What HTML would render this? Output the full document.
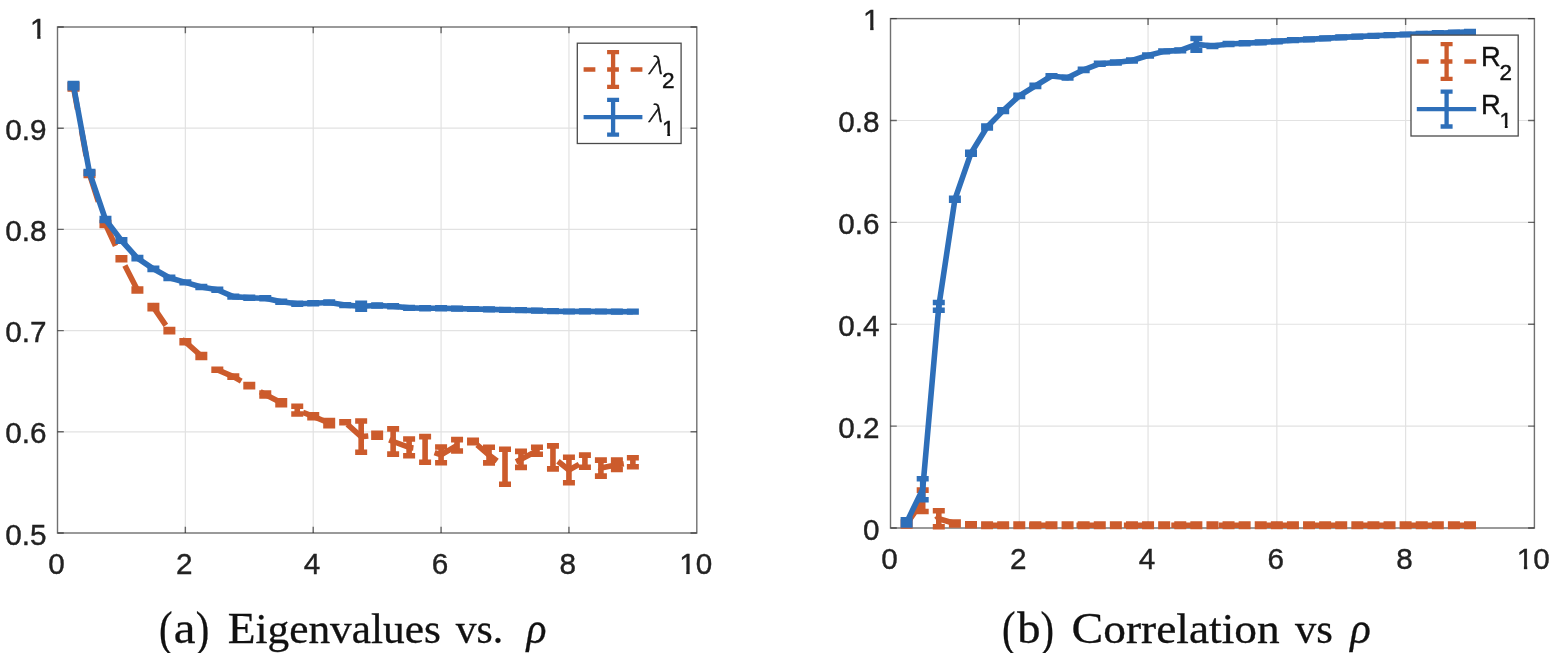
<!DOCTYPE html>
<html lang="en"><head><meta charset="utf-8"><title>Eigenvalues and correlation vs rho</title>
<style>html,body{margin:0;padding:0;background:#fff}svg{display:block}.tk text{stroke:#222;stroke-width:.4px}</style></head>
<body>
<svg width="1553" height="653" viewBox="0 0 1553 653" font-family="Liberation Sans, Arial, Helvetica, sans-serif" fill="#222222">
<rect width="1553" height="653" fill="#fff"/>
<path d="M185.36 27V533M313.22 27V533M441.08 27V533M568.94 27V533M57.5 128.2H696.8M57.5 229.4H696.8M57.5 330.6H696.8M57.5 431.8H696.8" stroke="#e2e2e2" stroke-width="1.2" fill="none"/>
<g class="tk"><path d="M185.36 533v-6.3M185.36 27v6.3M313.22 533v-6.3M313.22 27v6.3M441.08 533v-6.3M441.08 27v6.3M568.94 533v-6.3M568.94 27v6.3M57.5 128.2h6.3M696.8 128.2h-6.3M57.5 229.4h6.3M696.8 229.4h-6.3M57.5 330.6h6.3M696.8 330.6h-6.3M57.5 431.8h6.3M696.8 431.8h-6.3M57.5 27h6.3M57.5 533h6.3M696.8 27h-6.3M696.8 533h-6.3" stroke="#262626" stroke-opacity="0.66" stroke-width="1.4" fill="none"/>
<rect x="57.5" y="27" width="639.3" height="506" fill="none" stroke="#262626" stroke-opacity="0.66" stroke-width="1.4"/>
<clipPath id="c1"><rect x="28.09" y="5.83" width="18.63" height="29.4"/><rect x="37.21" y="29.59" width="3.32" height="9.26"/></clipPath>
<text x="46.6" y="38.5" text-anchor="end" font-size="29.7" clip-path="url(#c1)">1</text>
<text x="46.6" y="139.7" text-anchor="end" font-size="29.7">0.9</text>
<text x="46.6" y="240.9" text-anchor="end" font-size="29.7">0.8</text>
<text x="46.6" y="342.1" text-anchor="end" font-size="29.7">0.7</text>
<text x="46.6" y="443.3" text-anchor="end" font-size="29.7">0.6</text>
<text x="46.6" y="544.5" text-anchor="end" font-size="29.7">0.5</text>
<text x="56.4" y="574" text-anchor="middle" font-size="29.7">0</text>
<text x="184.26" y="574" text-anchor="middle" font-size="29.7">2</text>
<text x="312.12" y="574" text-anchor="middle" font-size="29.7">4</text>
<text x="439.98" y="574" text-anchor="middle" font-size="29.7">6</text>
<text x="567.84" y="574" text-anchor="middle" font-size="29.7">8</text>
<clipPath id="c2"><rect x="677.19" y="541.33" width="18.63" height="29.4"/><rect x="686.31" y="565.09" width="3.32" height="9.26"/><rect x="695.82" y="541.33" width="20.79" height="41.58"/></clipPath>
<text x="695.7" y="574" text-anchor="middle" font-size="29.7" clip-path="url(#c2)">10</text></g>
<path d="M73.48 86.9 L89.47 174 L105.45 224 L121.43 258.8 L137.41 290 L153.39 307.1 L169.38 330.6 L185.36 341.8 L201.34 356 L217.32 369.7 L233.31 376.6 L249.29 385.6 L265.27 394.5 L281.25 402.8 L297.24 410.1 L313.22 416.3 L329.2 423.1 L345.18 422.3 L361.17 436.6 L377.15 435.3 L393.13 441.5 L409.11 447.4 L425.1 449.4 L441.08 454.9 L457.06 445.3 L473.04 441.4 L489.03 455.1 L505.01 466.7 L520.99 459.4 L536.97 450.7 L552.96 457.4 L568.94 470 L584.92 461.2 L600.9 468.1 L616.89 464.8 L632.87 462.2" fill="none" stroke="#CC5B2C" stroke-width="5.6" stroke-linejoin="round" stroke-dasharray="25.6 21.8" stroke-dashoffset="2.7"/>
<path d="M73.48 84.9V88.9M67.48 84.9H79.48M67.48 88.9H79.48M89.47 172.5V175.5M83.47 172.5H95.47M83.47 175.5H95.47M105.45 222.5V225.5M99.45 222.5H111.45M99.45 225.5H111.45M121.43 257.8V259.8M115.43 257.8H127.43M115.43 259.8H127.43M137.41 289V291M131.41 289H143.41M131.41 291H143.41M153.39 305.6V308.6M147.39 305.6H159.39M147.39 308.6H159.39M169.38 329.6V331.6M163.38 329.6H175.38M163.38 331.6H175.38M185.36 340.8V342.8M179.36 340.8H191.36M179.36 342.8H191.36M201.34 354.5V357.5M195.34 354.5H207.34M195.34 357.5H207.34M217.32 369.2V370.2M211.32 369.2H223.32M211.32 370.2H223.32M233.31 376.1V377.1M227.31 376.1H239.31M227.31 377.1H239.31M249.29 384.6V386.6M243.29 384.6H255.29M243.29 386.6H255.29M265.27 393V396M259.27 393H271.27M259.27 396H271.27M281.25 400.8V404.8M275.25 400.8H287.25M275.25 404.8H287.25M297.24 406.2V414M291.24 406.2H303.24M291.24 414H303.24M313.22 414.8V417.8M307.22 414.8H319.22M307.22 417.8H319.22M329.2 420.5V425.7M323.2 420.5H335.2M323.2 425.7H335.2M345.18 421.8V422.8M339.18 421.8H351.18M339.18 422.8H351.18M361.17 421V452.2M355.17 421H367.17M355.17 452.2H367.17M377.15 433.3V437.3M371.15 433.3H383.15M371.15 437.3H383.15M393.13 428.9V454.1M387.13 428.9H399.13M387.13 454.1H399.13M409.11 439V455.8M403.11 439H415.11M403.11 455.8H415.11M425.1 436.6V462.2M419.1 436.6H431.1M419.1 462.2H431.1M441.08 447V462.8M435.08 447H447.08M435.08 462.8H447.08M457.06 439.6V451M451.06 439.6H463.06M451.06 451H463.06M473.04 440.2V442.6M467.04 440.2H479.04M467.04 442.6H479.04M489.03 447.3V462.9M483.03 447.3H495.03M483.03 462.9H495.03M505.01 449.2V484.2M499.01 449.2H511.01M499.01 484.2H511.01M520.99 451.4V467.4M514.99 451.4H526.99M514.99 467.4H526.99M536.97 447.2V454.2M530.97 447.2H542.97M530.97 454.2H542.97M552.96 445.9V468.9M546.96 445.9H558.96M546.96 468.9H558.96M568.94 457.2V482.8M562.94 457.2H574.94M562.94 482.8H574.94M584.92 455.1V467.3M578.92 455.1H590.92M578.92 467.3H590.92M600.9 460.1V476.1M594.9 460.1H606.9M594.9 476.1H606.9M616.89 460.1V469.5M610.89 460.1H622.89M610.89 469.5H622.89M632.87 457.7V466.7M626.87 457.7H638.87M626.87 466.7H638.87" fill="none" stroke="#CC5B2C" stroke-width="5.6"/>
<path d="M73.48 85.6 L89.47 172.5 L105.45 219.5 L121.43 240.5 L137.41 258.2 L153.39 268.8 L169.38 277.8 L185.36 282.4 L201.34 287 L217.32 289.7 L233.31 296.6 L249.29 297.8 L265.27 298.3 L281.25 301.7 L297.24 303.7 L313.22 303.2 L329.2 302.5 L345.18 305.1 L361.17 306.3 L377.15 305.5 L393.13 306.3 L409.11 307.9 L425.1 308.2 L441.08 308.3 L457.06 308.6 L473.04 309 L489.03 309.4 L505.01 309.8 L520.99 310.2 L536.97 310.6 L552.96 311.2 L568.94 311.5 L584.92 311.3 L600.9 311.5 L616.89 311.6 L632.87 311.7" fill="none" stroke="#2E6FB9" stroke-width="5.6" stroke-linejoin="round"/>
<path d="M73.48 83.6V87.6M67.48 83.6H79.48M67.48 87.6H79.48M89.47 171.6V173.4M83.47 171.6H95.47M83.47 173.4H95.47M105.45 218.6V220.4M99.45 218.6H111.45M99.45 220.4H111.45M121.43 239.9V241.1M115.43 239.9H127.43M115.43 241.1H127.43M137.41 257.6V258.8M131.41 257.6H143.41M131.41 258.8H143.41M153.39 268.2V269.4M147.39 268.2H159.39M147.39 269.4H159.39M169.38 277.2V278.4M163.38 277.2H175.38M163.38 278.4H175.38M185.36 282V282.8M179.36 282H191.36M179.36 282.8H191.36M201.34 286.6V287.4M195.34 286.6H207.34M195.34 287.4H207.34M217.32 289.3V290.1M211.32 289.3H223.32M211.32 290.1H223.32M233.31 296.2V297M227.31 296.2H239.31M227.31 297H239.31M249.29 297.4V298.2M243.29 297.4H255.29M243.29 298.2H255.29M265.27 297.9V298.7M259.27 297.9H271.27M259.27 298.7H271.27M281.25 301.3V302.1M275.25 301.3H287.25M275.25 302.1H287.25M297.24 303.3V304.1M291.24 303.3H303.24M291.24 304.1H303.24M313.22 302.8V303.6M307.22 302.8H319.22M307.22 303.6H319.22M329.2 302.1V302.9M323.2 302.1H335.2M323.2 302.9H335.2M345.18 304.7V305.5M339.18 304.7H351.18M339.18 305.5H351.18M361.17 303.4V309.2M355.17 303.4H367.17M355.17 309.2H367.17M377.15 305.1V305.9M371.15 305.1H383.15M371.15 305.9H383.15M393.13 305.9V306.7M387.13 305.9H399.13M387.13 306.7H399.13M409.11 307.5V308.3M403.11 307.5H415.11M403.11 308.3H415.11M425.1 307.8V308.6M419.1 307.8H431.1M419.1 308.6H431.1M441.08 307.9V308.7M435.08 307.9H447.08M435.08 308.7H447.08M457.06 308.3V308.9M451.06 308.3H463.06M451.06 308.9H463.06M473.04 308.7V309.3M467.04 308.7H479.04M467.04 309.3H479.04M489.03 309.1V309.7M483.03 309.1H495.03M483.03 309.7H495.03M505.01 309.5V310.1M499.01 309.5H511.01M499.01 310.1H511.01M520.99 309.9V310.5M514.99 309.9H526.99M514.99 310.5H526.99M536.97 310.3V310.9M530.97 310.3H542.97M530.97 310.9H542.97M552.96 310.9V311.5M546.96 310.9H558.96M546.96 311.5H558.96M568.94 311.2V311.8M562.94 311.2H574.94M562.94 311.8H574.94M584.92 311V311.6M578.92 311H590.92M578.92 311.6H590.92M600.9 311.2V311.8M594.9 311.2H606.9M594.9 311.8H606.9M616.89 311.3V311.9M610.89 311.3H622.89M610.89 311.9H622.89M632.87 311.4V312M626.87 311.4H638.87M626.87 312H638.87" fill="none" stroke="#2E6FB9" stroke-width="5.6"/>
<rect x="577.3" y="43.2" width="103.8" height="100.3" fill="#fff" stroke="#4a4a4a" stroke-width="1.3"/>
<path d="M583.6 69.5H642.4" stroke="#CC5B2C" stroke-width="4.3" stroke-dasharray="11.76 11.76" fill="none"/>
<path d="M613.1 52.1V86.9M607.1 52.1H619.1M607.1 86.9H619.1" stroke="#CC5B2C" stroke-width="4.3" fill="none"/>
<path d="M583.6 117.2H642.4" stroke="#2E6FB9" stroke-width="4.3" fill="none"/>
<path d="M613.1 99.8V134.6M607.1 99.8H619.1M607.1 134.6H619.1" stroke="#2E6FB9" stroke-width="4.3" fill="none"/>
<text transform="translate(647 73.9) scale(1.08 1) skewX(-14)" font-size="24.9" font-family="DejaVu Sans, sans-serif" font-weight="200" fill="#111" stroke="#111" stroke-width="0.6">λ</text>
<text x="662" y="87.8" font-size="22.6" fill="#111" stroke="#111" stroke-width="0.45">2</text>
<text transform="translate(647 121.8) scale(1.08 1) skewX(-14)" font-size="24.9" font-family="DejaVu Sans, sans-serif" font-weight="200" fill="#111" stroke="#111" stroke-width="0.6">λ</text>
<clipPath id="c3"><rect x="660" y="110.84" width="14.66" height="22.1"/><rect x="667.31" y="128.92" width="2.75" height="7.16"/></clipPath>
<text x="662" y="135.7" font-size="22.6" fill="#111" stroke="#111" stroke-width="0.45" clip-path="url(#c3)">1</text>
<path d="M1019.28 18.6V528M1148.06 18.6V528M1276.84 18.6V528M1405.62 18.6V528M890.5 120.48H1534.4M890.5 222.36H1534.4M890.5 324.24H1534.4M890.5 426.12H1534.4" stroke="#e2e2e2" stroke-width="1.2" fill="none"/>
<g class="tk"><path d="M1019.28 528v-6.3M1019.28 18.6v6.3M1148.06 528v-6.3M1148.06 18.6v6.3M1276.84 528v-6.3M1276.84 18.6v6.3M1405.62 528v-6.3M1405.62 18.6v6.3M890.5 120.48h6.3M1534.4 120.48h-6.3M890.5 222.36h6.3M1534.4 222.36h-6.3M890.5 324.24h6.3M1534.4 324.24h-6.3M890.5 426.12h6.3M1534.4 426.12h-6.3M890.5 18.6h6.3M890.5 528h6.3M1534.4 18.6h-6.3M1534.4 528h-6.3" stroke="#262626" stroke-opacity="0.66" stroke-width="1.4" fill="none"/>
<rect x="890.5" y="18.6" width="643.9" height="509.4" fill="none" stroke="#262626" stroke-opacity="0.66" stroke-width="1.4"/>
<clipPath id="c4"><rect x="861.09" y="-2.57" width="18.63" height="29.4"/><rect x="870.21" y="21.19" width="3.32" height="9.26"/></clipPath>
<text x="879.6" y="30.1" text-anchor="end" font-size="29.7" clip-path="url(#c4)">1</text>
<text x="879.6" y="131.98" text-anchor="end" font-size="29.7">0.8</text>
<text x="879.6" y="233.86" text-anchor="end" font-size="29.7">0.6</text>
<text x="879.6" y="335.74" text-anchor="end" font-size="29.7">0.4</text>
<text x="879.6" y="437.62" text-anchor="end" font-size="29.7">0.2</text>
<text x="879.6" y="539.5" text-anchor="end" font-size="29.7">0</text>
<text x="889.4" y="569.3" text-anchor="middle" font-size="29.7">0</text>
<text x="1018.18" y="569.3" text-anchor="middle" font-size="29.7">2</text>
<text x="1146.96" y="569.3" text-anchor="middle" font-size="29.7">4</text>
<text x="1275.74" y="569.3" text-anchor="middle" font-size="29.7">6</text>
<text x="1404.52" y="569.3" text-anchor="middle" font-size="29.7">8</text>
<clipPath id="c5"><rect x="1514.79" y="536.63" width="18.63" height="29.4"/><rect x="1523.91" y="560.39" width="3.32" height="9.26"/><rect x="1533.42" y="536.63" width="20.79" height="41.58"/></clipPath>
<text x="1533.3" y="569.3" text-anchor="middle" font-size="29.7" clip-path="url(#c5)">10</text></g>
<path d="M906.6 524 L922.7 500.8 L938.79 518.7 L954.89 523.5 L970.99 524.7 L987.09 525.3 L1003.18 525.3 L1019.28 525.3 L1035.38 525.3 L1051.47 525.3 L1067.57 525.3 L1083.67 525.3 L1099.77 525.3 L1115.87 525.3 L1131.96 525.3 L1148.06 525.3 L1164.16 525.3 L1180.26 525.3 L1196.35 525.3 L1212.45 525.3 L1228.55 525.3 L1244.64 525.3 L1260.74 525.3 L1276.84 525.3 L1292.94 525.3 L1309.04 525.3 L1325.13 525.3 L1341.23 525.3 L1357.33 525.3 L1373.43 525.3 L1389.52 525.3 L1405.62 525.3 L1421.72 525.3 L1437.82 525.3 L1453.91 525.3 L1470.01 525.3" fill="none" stroke="#CC5B2C" stroke-width="5.6" stroke-linejoin="round" stroke-dasharray="25.6 21.8" stroke-dashoffset="46.23"/>
<path d="M906.6 522V526M900.6 522H912.6M900.6 526H912.6M922.7 490.1V511.5M916.7 490.1H928.7M916.7 511.5H928.7M938.79 510.7V526.7M932.79 510.7H944.79M932.79 526.7H944.79M954.89 522V525M948.89 522H960.89M948.89 525H960.89M970.99 523.7V525.7M964.99 523.7H976.99M964.99 525.7H976.99M987.09 524.1V526.5M981.09 524.1H993.09M981.09 526.5H993.09M1003.18 524.1V526.5M997.18 524.1H1009.18M997.18 526.5H1009.18M1019.28 524.1V526.5M1013.28 524.1H1025.28M1013.28 526.5H1025.28M1035.38 524.1V526.5M1029.38 524.1H1041.38M1029.38 526.5H1041.38M1051.47 524.1V526.5M1045.47 524.1H1057.47M1045.47 526.5H1057.47M1067.57 524.1V526.5M1061.57 524.1H1073.57M1061.57 526.5H1073.57M1083.67 524.1V526.5M1077.67 524.1H1089.67M1077.67 526.5H1089.67M1099.77 524.1V526.5M1093.77 524.1H1105.77M1093.77 526.5H1105.77M1115.87 524.1V526.5M1109.87 524.1H1121.87M1109.87 526.5H1121.87M1131.96 524.1V526.5M1125.96 524.1H1137.96M1125.96 526.5H1137.96M1148.06 524.1V526.5M1142.06 524.1H1154.06M1142.06 526.5H1154.06M1164.16 524.1V526.5M1158.16 524.1H1170.16M1158.16 526.5H1170.16M1180.26 524.1V526.5M1174.26 524.1H1186.26M1174.26 526.5H1186.26M1196.35 524.1V526.5M1190.35 524.1H1202.35M1190.35 526.5H1202.35M1212.45 524.1V526.5M1206.45 524.1H1218.45M1206.45 526.5H1218.45M1228.55 524.1V526.5M1222.55 524.1H1234.55M1222.55 526.5H1234.55M1244.64 524.1V526.5M1238.64 524.1H1250.64M1238.64 526.5H1250.64M1260.74 524.1V526.5M1254.74 524.1H1266.74M1254.74 526.5H1266.74M1276.84 524.1V526.5M1270.84 524.1H1282.84M1270.84 526.5H1282.84M1292.94 524.1V526.5M1286.94 524.1H1298.94M1286.94 526.5H1298.94M1309.04 524.1V526.5M1303.04 524.1H1315.04M1303.04 526.5H1315.04M1325.13 524.1V526.5M1319.13 524.1H1331.13M1319.13 526.5H1331.13M1341.23 524.1V526.5M1335.23 524.1H1347.23M1335.23 526.5H1347.23M1357.33 524.1V526.5M1351.33 524.1H1363.33M1351.33 526.5H1363.33M1373.43 524.1V526.5M1367.43 524.1H1379.43M1367.43 526.5H1379.43M1389.52 524.1V526.5M1383.52 524.1H1395.52M1383.52 526.5H1395.52M1405.62 524.1V526.5M1399.62 524.1H1411.62M1399.62 526.5H1411.62M1421.72 524.1V526.5M1415.72 524.1H1427.72M1415.72 526.5H1427.72M1437.82 524.1V526.5M1431.82 524.1H1443.82M1431.82 526.5H1443.82M1453.91 524.1V526.5M1447.91 524.1H1459.91M1447.91 526.5H1459.91M1470.01 524.1V526.5M1464.01 524.1H1476.01M1464.01 526.5H1476.01" fill="none" stroke="#CC5B2C" stroke-width="5.6"/>
<path d="M906.6 522.4 L922.7 489.2 L938.79 306.4 L954.89 199.3 L970.99 153.2 L987.09 127 L1003.18 110.6 L1019.28 95.9 L1035.38 85.8 L1051.47 76 L1067.57 77.7 L1083.67 69.8 L1099.77 63.7 L1115.87 62.5 L1131.96 60.5 L1148.06 55.5 L1164.16 51.4 L1180.26 50.4 L1196.35 44.4 L1212.45 46 L1228.55 44 L1244.64 43.2 L1260.74 42.4 L1276.84 41.4 L1292.94 40.2 L1309.04 39.4 L1325.13 38.4 L1341.23 37.4 L1357.33 36.6 L1373.43 35.8 L1389.52 35.1 L1405.62 34.5 L1421.72 33.8 L1437.82 33.2 L1453.91 32.5 L1470.01 31.9" fill="none" stroke="#2E6FB9" stroke-width="5.6" stroke-linejoin="round"/>
<path d="M906.6 519.9V524.9M900.6 519.9H912.6M900.6 524.9H912.6M922.7 478.7V499.7M916.7 478.7H928.7M916.7 499.7H928.7M938.79 302.5V310.3M932.79 302.5H944.79M932.79 310.3H944.79M954.89 198.4V200.2M948.89 198.4H960.89M948.89 200.2H960.89M970.99 152.3V154.1M964.99 152.3H976.99M964.99 154.1H976.99M987.09 126.1V127.9M981.09 126.1H993.09M981.09 127.9H993.09M1003.18 109.7V111.5M997.18 109.7H1009.18M997.18 111.5H1009.18M1019.28 95.3V96.5M1013.28 95.3H1025.28M1013.28 96.5H1025.28M1035.38 85.2V86.4M1029.38 85.2H1041.38M1029.38 86.4H1041.38M1051.47 75.7V76.3M1045.47 75.7H1057.47M1045.47 76.3H1057.47M1067.57 77.4V78M1061.57 77.4H1073.57M1061.57 78H1073.57M1083.67 69.2V70.4M1077.67 69.2H1089.67M1077.67 70.4H1089.67M1099.77 63.3V64.1M1093.77 63.3H1105.77M1093.77 64.1H1105.77M1115.87 62.1V62.9M1109.87 62.1H1121.87M1109.87 62.9H1121.87M1131.96 60.1V60.9M1125.96 60.1H1137.96M1125.96 60.9H1137.96M1148.06 55.1V55.9M1142.06 55.1H1154.06M1142.06 55.9H1154.06M1164.16 51V51.8M1158.16 51H1170.16M1158.16 51.8H1170.16M1180.26 50V50.8M1174.26 50H1186.26M1174.26 50.8H1186.26M1196.35 38.5V50.3M1190.35 38.5H1202.35M1190.35 50.3H1202.35M1212.45 45.6V46.4M1206.45 45.6H1218.45M1206.45 46.4H1218.45M1228.55 43.6V44.4M1222.55 43.6H1234.55M1222.55 44.4H1234.55M1244.64 42.8V43.6M1238.64 42.8H1250.64M1238.64 43.6H1250.64M1260.74 42V42.8M1254.74 42H1266.74M1254.74 42.8H1266.74M1276.84 41V41.8M1270.84 41H1282.84M1270.84 41.8H1282.84M1292.94 39.9V40.5M1286.94 39.9H1298.94M1286.94 40.5H1298.94M1309.04 39.1V39.7M1303.04 39.1H1315.04M1303.04 39.7H1315.04M1325.13 38.1V38.7M1319.13 38.1H1331.13M1319.13 38.7H1331.13M1341.23 37.1V37.7M1335.23 37.1H1347.23M1335.23 37.7H1347.23M1357.33 36.3V36.9M1351.33 36.3H1363.33M1351.33 36.9H1363.33M1373.43 35.5V36.1M1367.43 35.5H1379.43M1367.43 36.1H1379.43M1389.52 34.8V35.4M1383.52 34.8H1395.52M1383.52 35.4H1395.52M1405.62 34.2V34.8M1399.62 34.2H1411.62M1399.62 34.8H1411.62M1421.72 33.5V34.1M1415.72 33.5H1427.72M1415.72 34.1H1427.72M1437.82 32.9V33.5M1431.82 32.9H1443.82M1431.82 33.5H1443.82M1453.91 32.2V32.8M1447.91 32.2H1459.91M1447.91 32.8H1459.91M1470.01 31.6V32.2M1464.01 31.6H1476.01M1464.01 32.2H1476.01" fill="none" stroke="#2E6FB9" stroke-width="5.6"/>
<rect x="1411" y="35.1" width="107.2" height="100.9" fill="#fff" stroke="#4a4a4a" stroke-width="1.3"/>
<path d="M1416.8 61.5H1476.2" stroke="#CC5B2C" stroke-width="4.3" stroke-dasharray="11.88 11.88" fill="none"/>
<path d="M1446.6 44.1V78.9M1440.6 44.1H1452.6M1440.6 78.9H1452.6" stroke="#CC5B2C" stroke-width="4.3" fill="none"/>
<path d="M1416.8 109.1H1476.2" stroke="#2E6FB9" stroke-width="4.3" fill="none"/>
<path d="M1446.6 91.7V126.5M1440.6 91.7H1452.6M1440.6 126.5H1452.6" stroke="#2E6FB9" stroke-width="4.3" fill="none"/>
<text x="1481" y="66" font-size="27.3" fill="#111" stroke="#111" stroke-width="0.4">R</text>
<text x="1499.6" y="80" font-size="22.4" fill="#111" stroke="#111" stroke-width="0.45">2</text>
<text x="1481" y="113.6" font-size="27.3" fill="#111" stroke="#111" stroke-width="0.4">R</text>
<clipPath id="c6"><rect x="1497.6" y="102.96" width="14.54" height="21.89"/><rect x="1504.86" y="120.88" width="2.73" height="7.09"/></clipPath>
<text x="1499.6" y="127.6" font-size="22.4" fill="#111" stroke="#111" stroke-width="0.45" clip-path="url(#c6)">1</text>
<text transform="translate(158.95 644.6) scale(0.825 1)" font-family="Liberation Serif, Times New Roman, serif" font-size="49.2" fill="#111" stroke="#111" stroke-width="0.3">(</text>
<text x="173.7" y="642.8" font-size="43.5" textLength="21.7" lengthAdjust="spacingAndGlyphs" font-family="Liberation Serif, Times New Roman, serif" fill="#111" stroke="#111" stroke-width="0.3">a</text>
<text transform="translate(195.8 644.6) scale(0.825 1)" font-family="Liberation Serif, Times New Roman, serif" font-size="49.2" fill="#111" stroke="#111" stroke-width="0.3">)</text>
<text x="227.7" y="642.8" font-size="43.5" textLength="213.2" lengthAdjust="spacingAndGlyphs" font-family="Liberation Serif, Times New Roman, serif" fill="#111" stroke="#111" stroke-width="0.3">E<tspan font-size="41.5">igenvalues</tspan></text>
<text x="455.8" y="642.8" font-size="41.5" textLength="47.4" lengthAdjust="spacingAndGlyphs" font-family="Liberation Serif, Times New Roman, serif" fill="#111" stroke="#111" stroke-width="0.3">vs.</text>
<text x="526.5" y="642.8" font-size="43.5" textLength="20" lengthAdjust="spacingAndGlyphs" font-family="Liberation Serif, Times New Roman, serif" fill="#111" stroke="#111" stroke-width="0.3" font-style="italic">ρ</text>
<text transform="translate(1001.95 644.6) scale(0.825 1)" font-family="Liberation Serif, Times New Roman, serif" font-size="49.2" fill="#111" stroke="#111" stroke-width="0.3">(</text>
<text x="1017.2" y="642.8" font-size="43.5" textLength="23.25" lengthAdjust="spacingAndGlyphs" font-family="Liberation Serif, Times New Roman, serif" fill="#111" stroke="#111" stroke-width="0.3">b</text>
<text transform="translate(1040.6 644.6) scale(0.825 1)" font-family="Liberation Serif, Times New Roman, serif" font-size="49.2" fill="#111" stroke="#111" stroke-width="0.3">)</text>
<text x="1071.6" y="642.8" font-size="43.5" textLength="208" lengthAdjust="spacingAndGlyphs" font-family="Liberation Serif, Times New Roman, serif" fill="#111" stroke="#111" stroke-width="0.3">C<tspan font-size="41.5">orrelation</tspan></text>
<text x="1295" y="642.8" font-size="41.5" textLength="37.9" lengthAdjust="spacingAndGlyphs" font-family="Liberation Serif, Times New Roman, serif" fill="#111" stroke="#111" stroke-width="0.3">vs</text>
<text x="1350.2" y="642.8" font-size="43.5" textLength="20.6" lengthAdjust="spacingAndGlyphs" font-family="Liberation Serif, Times New Roman, serif" fill="#111" stroke="#111" stroke-width="0.3" font-style="italic">ρ</text>
</svg>
</body></html>
